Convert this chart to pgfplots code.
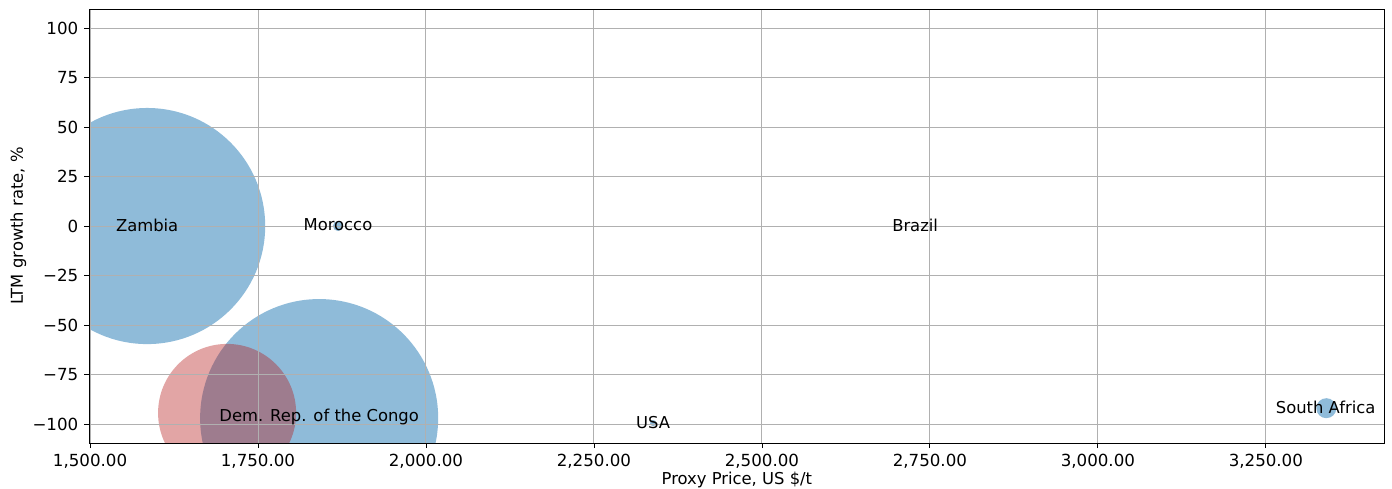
\documentclass[border=0pt]{standalone}
\usepackage{pgfplots}
\pgfplotsset{compat=1.18}
\usepackage{fontspec}
\setmainfont{DejaVu Sans}
\definecolor{mplblue}{HTML}{1F77B4}
\definecolor{bubred}{RGB}{182,30,30}
\definecolor{gridgray}{HTML}{B0B0B0}
\begin{document}
\fontsize{11.8}{14}\selectfont
\begin{tikzpicture}
\path[use as bounding box] (-64.1pt,-32.4pt) rectangle (938.2pt,319pt);
\begin{axis}[
  at={(0,0)}, anchor=south west,
  scale only axis, width=933pt, height=312.5pt,
  xmin=1498.5, xmax=3427, ymin=-109.6, ymax=109.6,
  xtick={1500,1750,2000,2250,2500,2750,3000,3250},
  ytick={-100,-75,-50,-25,0,25,50,75,100},
  yticklabels={−100,−75,−50,−25,0,25,50,75,100},
  /pgf/number format/assume math mode=true,
  xticklabel={\pgfmathprintnumber[fixed,fixed zerofill,precision=2,1000 sep={,}]{\tick}},
  scaled x ticks=false,
  tick align=outside, major tick length=3.6pt,
  tick style={black, line width=0.6pt},
  xtick pos=bottom, ytick pos=left,
  grid=major, major grid style={gridgray, line width=0.7pt},
  axis line style={black, line width=0.7pt},
  axis on top,
  xlabel={Proxy Price, US \$/t},
  ylabel={LTM growth rate, \%},
  xlabel style={at={(axis description cs:0.5,-0.0851)}, anchor=center},
  ylabel style={at={(axis description cs:-0.0545,0.5)}, anchor=center},
  ticklabel style={font=\fontsize{12}{14}\selectfont},
  label style={font=\fontsize{11.8}{14}\selectfont},
  clip=true, clip marker paths=true,
  every axis plot/.append style={only marks, mark=*},
]
% blue bubbles
\addplot[mplblue, mark size=85pt, mark options={fill=mplblue, fill opacity=0.5, draw opacity=0}] coordinates {(1585,0)};
\addplot[mplblue, mark size=3.6pt, mark options={fill=mplblue, fill opacity=0.5, draw opacity=0}] coordinates {(1869,0)};
\addplot[mplblue, mark size=0.6pt, mark options={fill=mplblue, fill opacity=0.5, draw opacity=0}] coordinates {(2728,0)};
\addplot[mplblue, mark size=85.7pt, mark options={fill=mplblue, fill opacity=0.5, draw opacity=0}] coordinates {(1841,-97)};
\addplot[mplblue, mark size=2.2pt, mark options={fill=mplblue, fill opacity=0.5, draw opacity=0}] coordinates {(2338,-99.5)};
\addplot[mplblue, mark size=7.2pt, mark options={fill=mplblue, fill opacity=0.5, draw opacity=0}] coordinates {(3340,-92)};
% red bubble
\addplot[bubred, mark size=49.7pt, mark options={fill=bubred, fill opacity=0.4, draw opacity=0}] coordinates {(1704,-94.4)};
\end{axis}
\begin{axis}[
  at={(0,0)}, anchor=south west,
  scale only axis, width=933pt, height=312.5pt,
  xmin=1498.5, xmax=3427, ymin=-109.6, ymax=109.6,
  hide axis, clip=false,
]
\node[font=\fontsize{11.8}{14}\selectfont] at (axis cs:1585,0.5) {Zambia};
\node[font=\fontsize{11.8}{14}\selectfont] at (axis cs:1869,0.5) {Morocco};
\node[font=\fontsize{11.8}{14}\selectfont] at (axis cs:2728,0.5) {Brazil};
\node[font=\fontsize{11.8}{14}\selectfont] at (axis cs:1841,-96.5) {Dem. Rep. of the Congo};
\node[font=\fontsize{11.8}{14}\selectfont] at (axis cs:2338,-99) {USA};
\node[font=\fontsize{11.8}{14}\selectfont] at (axis cs:3339,-91.5) {South Africa};
\end{axis}
\end{tikzpicture}
\end{document}
